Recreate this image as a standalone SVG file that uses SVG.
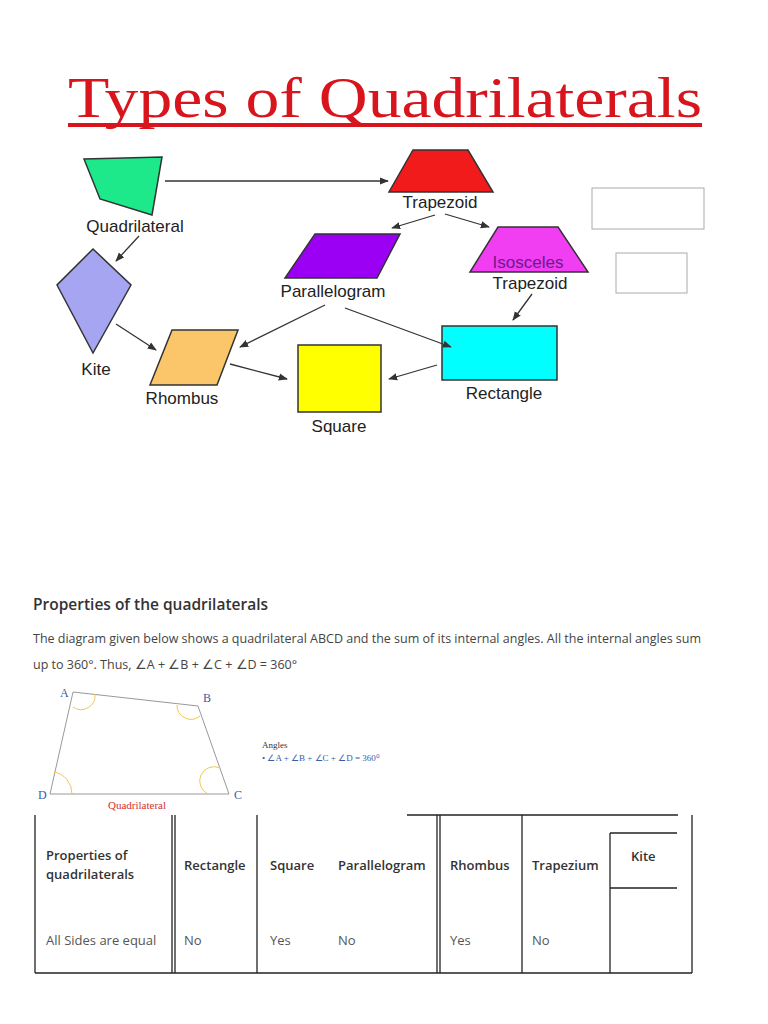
<svg xmlns="http://www.w3.org/2000/svg" width="768" height="1024" viewBox="0 0 768 1024">
<defs>
<marker id="ah" viewBox="0 0 10 10" refX="9" refY="5" markerWidth="7" markerHeight="7" orient="auto"><path d="M0,1 L10,5 L0,9 z" fill="#333"/></marker>
<style>
.lbl{font-family:"Liberation Sans",Arial,sans-serif;font-size:17px;fill:#222;text-anchor:middle}
.shp{stroke:#333;stroke-width:1.5}
.con line{stroke:#333;stroke-width:1.3;marker-end:url(#ah)}
.th{font-family:"Open Sans","Liberation Sans",sans-serif;font-size:13px;fill:#333;font-weight:600}
.td{font-family:"Open Sans","Liberation Sans",sans-serif;font-size:13px;fill:#555}
.tl{stroke:#222;stroke-width:1.3;fill:none}
.ser{font-family:"Liberation Serif",serif}
</style>
</defs>
<rect width="768" height="1024" fill="#fff"/>
<g id="title">
<text x="385" y="117" font-family="Liberation Serif,serif" font-size="56" fill="#d8151c" text-anchor="middle" textLength="634" lengthAdjust="spacingAndGlyphs">Types of Quadrilaterals</text>
<rect x="68" y="123" width="634" height="4" fill="#d8151c"/>
</g>
<g id="quadrilateral"><polygon class="shp" points="84,159 162,157 152,215 100,199" fill="#1de98b"/><text class="lbl" x="135" y="232">Quadrilateral</text></g>
<g id="trapezoid"><polygon class="shp" points="413,150 468,150 493,192 389,192" fill="#f21b1b"/><text class="lbl" x="440" y="208">Trapezoid</text></g>
<g id="isosceles"><polygon class="shp" points="498,227 558,227 588,272 470,272" fill="#f23ef2"/><text class="lbl" x="528" y="268" fill="#6a1a8a" style="fill:#6a1a8a">Isosceles</text><text class="lbl" x="530" y="289">Trapezoid</text></g>
<g id="parallelogram"><polygon class="shp" points="315,234 400,234 377,278 285,278" fill="#9b00f5"/><text class="lbl" x="333" y="297">Parallelogram</text></g>
<g id="kite"><polygon class="shp" points="93,249 131,285 93,353 57,285" fill="#a5a5f2"/><text class="lbl" x="96" y="375">Kite</text></g>
<g id="rhombus"><polygon class="shp" points="172,330 238,330 217,385 150,385" fill="#fbc56a"/><text class="lbl" x="182" y="404">Rhombus</text></g>
<g id="square"><rect class="shp" x="298" y="345" width="83" height="67" fill="#ffff00"/><text class="lbl" x="339" y="432">Square</text></g>
<g id="rectangle"><rect class="shp" x="442" y="326" width="115" height="54" fill="#00ffff"/><text class="lbl" x="504" y="399">Rectangle</text></g>
<g id="box1"><rect x="592" y="188" width="112" height="41" fill="none" stroke="#aaa"/></g>
<g id="box2"><rect x="616" y="253" width="71" height="40" fill="none" stroke="#aaa"/></g>
<g class="con" id="connectors">
<line x1="165" y1="181" x2="388" y2="181"/>
<line x1="139" y1="236" x2="116" y2="261"/>
<line x1="435" y1="215" x2="392" y2="228"/>
<line x1="445" y1="214" x2="489" y2="227"/>
<line x1="532" y1="294" x2="513" y2="320"/>
<line x1="116" y1="324" x2="156" y2="350"/>
<line x1="325" y1="305" x2="240" y2="347"/>
<line x1="345" y1="308" x2="451" y2="347"/>
<line x1="230" y1="364" x2="287" y2="379"/>
<line x1="437" y1="365" x2="389" y2="379"/>
</g>
<g id="text">
<text x="33" y="610" font-family="Open Sans,Liberation Sans,sans-serif" font-size="15.5" font-weight="600" fill="#333">Properties of the quadrilaterals</text>
<text x="33" y="643" font-family="Open Sans,Liberation Sans,sans-serif" font-size="12.5" fill="#444">The diagram given below shows a quadrilateral ABCD and the sum of its internal angles. All the internal angles sum</text>
<text x="33" y="669" font-family="Open Sans,Liberation Sans,sans-serif" font-size="12.5" fill="#444">up to 360°. Thus, ∠A + ∠B + ∠C + ∠D = 360°</text>
</g>
<g id="abcd">
<polygon points="73,692 198,706 229,794 50,794" fill="none" stroke="#999" stroke-width="1"/>
<path d="M73,707 A14,14 0 0 0 95,694" fill="none" stroke="#f2c94c"/>
<path d="M177,705 A14,14 0 0 0 200,716" fill="none" stroke="#f2c94c"/>
<path d="M208,794 A14,14 0 0 1 220,768" fill="none" stroke="#f2c94c"/>
<path d="M54,772 A22,22 0 0 1 72,794" fill="none" stroke="#f2c94c"/>
<g class="ser" font-size="12" fill="#3a5ca8"><text x="60" y="697">A</text><text x="203" y="702">B</text><text x="234" y="799">C</text><text x="38" y="799">D</text></g>
<text class="ser" x="137" y="809" font-size="11" fill="#d03030" text-anchor="middle">Quadrilateral</text>
<text class="ser" x="262" y="748" font-size="9" fill="#333">Angles</text>
<text class="ser" x="262" y="761" font-size="9" fill="#3a5ca8">•     ∠A + ∠B + ∠C + ∠D = 360⁰</text>
</g>
<g id="table">
<line class="tl" x1="407" y1="815" x2="678" y2="815"/>
<line class="tl" x1="35" y1="815" x2="35" y2="973"/>
<line class="tl" x1="172" y1="815" x2="172" y2="973"/><line class="tl" x1="175" y1="815" x2="175" y2="973"/>
<line class="tl" x1="257" y1="815" x2="257" y2="973"/>
<line class="tl" x1="437" y1="815" x2="437" y2="973"/><line class="tl" x1="440" y1="815" x2="440" y2="973"/>
<line class="tl" x1="522" y1="815" x2="522" y2="973"/>
<line class="tl" x1="692" y1="815" x2="692" y2="973"/>
<line class="tl" x1="610" y1="833" x2="610" y2="973"/>
<line class="tl" x1="610" y1="833" x2="677" y2="833"/>
<line class="tl" x1="610" y1="888" x2="677" y2="888"/>
<line class="tl" x1="35" y1="973" x2="692" y2="973"/>
<text class="th" x="46" y="860">Properties of</text><text class="th" x="46" y="879">quadrilaterals</text>
<text class="th" x="184" y="870">Rectangle</text><text class="th" x="270" y="870">Square</text><text class="th" x="338" y="870">Parallelogram</text>
<text class="th" x="450" y="870">Rhombus</text><text class="th" x="532" y="870">Trapezium</text><text class="th" x="631" y="861">Kite</text>
<text class="td" x="46" y="945">All Sides are equal</text><text class="td" x="184" y="945">No</text><text class="td" x="270" y="945">Yes</text>
<text class="td" x="338" y="945">No</text><text class="td" x="450" y="945">Yes</text><text class="td" x="532" y="945">No</text>
</g>
</svg>
